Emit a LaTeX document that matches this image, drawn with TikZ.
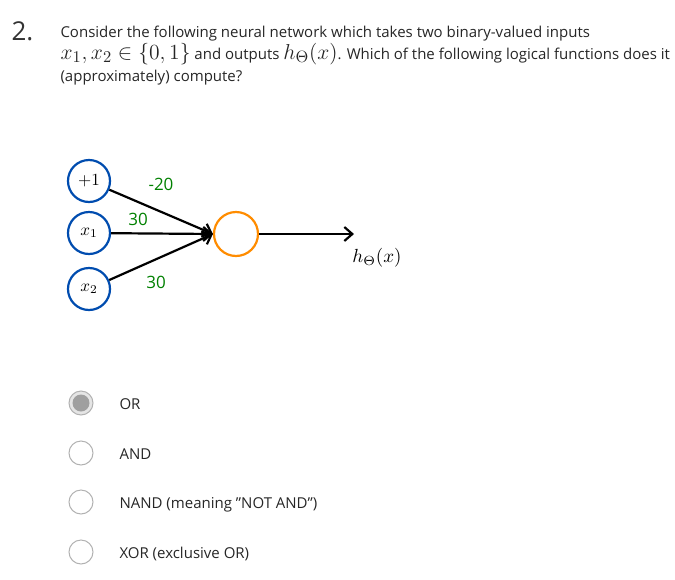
\documentclass[tikz,border=0pt]{standalone}
\usetikzlibrary{arrows.meta}
\usepackage{amsmath}
\usepackage{fontspec}
\setmainfont{Open Sans}
\newcommand{\bm}[2]{\raisebox{0pt}{\scalebox{#1}{$#2$}}}
\begin{document}
\begin{tikzpicture}[x=1pt,y=-1pt,
 inp/.style={circle,draw=blue!55!black!70!cyan,line width=2.2pt,minimum size=42pt,inner sep=0pt},
 w/.style={text=green!50!black,font=\fontsize{17}{17}\selectfont},
 txt/.style={anchor=base west,font=\fontsize{15}{15}\selectfont,text=black!85},
 radio/.style={circle,draw=gray!60,line width=1pt,minimum size=24pt,inner sep=0pt},
 edge/.style={line width=2.2pt,-{Straight Barb[length=8pt,width=14pt]}}]
\useasboundingbox (0,0) rectangle (675,579);
\node[anchor=base west,font=\fontsize{26}{26}\selectfont,text=black!80] (num) at (8,40) {2.};
\node[txt] (l1) at (57,37) {Consider the following neural network which takes two binary-valued inputs};
\node[txt] (l2) at (57,59) {\bm{1.5}{x_1,x_2\in\{0,1\}} and outputs \bm{1.5}{h_\Theta(x)}. Which of the following logical functions does it};
\node[txt] (l3) at (57,81) {(approximately) compute?};
\node[inp] (b) at (89,181) {\bm{1.7}{+1}};
\node[inp] (x1) at (89,233) {\bm{1.7}{x_1}};
\node[inp] (x2) at (89,289) {\bm{1.7}{x_2}};
\node[circle,draw=orange!90!yellow,line width=2.2pt,minimum size=44pt] (o) at (236,234) {};
\coordinate (end) at (354,234);
\draw[edge] (b) -- (o.west);
\draw[edge] (x1) -- (o.west);
\draw[edge] (x2) -- (o.west);
\draw[edge] (o) -- (end);
\node (h) at (377,258) {\bm{1.9}{h_\Theta(x)}};
\node[w] (w0) at (161,184) {-20};
\node[w] (w1) at (138,219) {30};
\node[w] (w2) at (156,282) {30};
\node[radio,fill=gray!20] (r1) at (81,403) {};
\node[circle,fill=gray!75,minimum size=17pt,inner sep=0pt] (r1i) at (r1) {};
\node[radio] (r2) at (81,453) {};
\node[radio] (r3) at (81,502) {};
\node[radio] (r4) at (81,552) {};
\node[txt] (t1) at (116,409) {OR};
\node[txt] (t2) at (116,459) {AND};
\node[txt] (t3) at (116,508) {NAND (meaning "NOT AND")};
\node[txt] (t4) at (116,558) {XOR (exclusive OR)};
\end{tikzpicture}
\end{document}
